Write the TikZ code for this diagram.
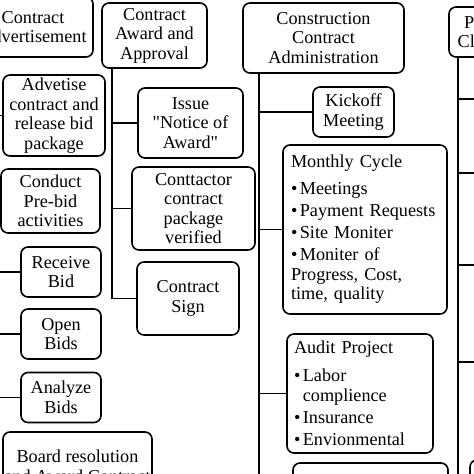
\documentclass[tikz,border=0pt]{standalone}
\usepackage{fontspec}
\setmainfont{Liberation Serif}
\newcommand\bul{\textbullet\hspace{2.5pt}}

\begin{document}
\begin{tikzpicture}[
        x=1pt, y=-1pt,
        font=\fontsize{18.2}{19.5}\selectfont,
        box/.style={draw, line width=1.6pt, rounded corners=7pt, align=center, inner sep=0pt},
        listbox/.style={box, align=left},
        line/.style={line width=1.6pt}
    ]

    \fill[white] (0,0) rectangle (474,474);
    \useasboundingbox (0,0) rectangle (474,474);
    \clip (0,0) rectangle (474,474);

    % Contract advertisement
    \node[box, minimum width=120pt, minimum height=60pt] (adv) at (33,27) {Contract\\Advertisement};
    \node[box, minimum width=102pt, minimum height=81pt] (advetise) at (54,115.5) {Advetise\\contract and\\release bid\\package};
    \node[box, minimum width=99pt, minimum height=64pt] (conduct) at (50.5,201) {Conduct\\Pre-bid\\activities};
    \node[box, minimum width=80pt, minimum height=50pt] (receive) at (61,272) {Receive\\Bid};
    \node[box, minimum width=80pt, minimum height=50pt] (open) at (61,334) {Open\\Bids};
    \node[box, minimum width=80pt, minimum height=50pt] (analyze) at (61,397.5) {Analyze\\Bids};
    \node[box, minimum width=149pt, minimum height=69pt] (board) at (77.5,466.5) {Board resolution\\and Award Contract};

    % Contract award
    \node[box, minimum width=105pt, minimum height=65pt] (award) at (154.5,35.5) {Contract\\Award and\\Approval};
    \node[box, minimum width=105pt, minimum height=70pt] (issue) at (190.5,123) {Issue\\\textquotedbl Notice of\\Award\textquotedbl};
    \node[box, minimum width=123pt, minimum height=83pt] (verify) at (193.5,208.5) {Conttactor\\contract\\package\\verified};
    \node[box, minimum width=102pt, minimum height=73pt] (sign) at (188,298.5) {Contract\\Sign};

    % Contract administration
    \node[box, minimum width=161pt, minimum height=70pt] (admin) at (323.5,38) {Construction\\Contract\\Administration};
    \node[box, minimum width=81pt, minimum height=50pt] (kickoff) at (353.5,112) {Kickoff\\Meeting};
    \node[listbox, text width=148pt, minimum width=164pt, minimum height=169pt] (monthly) at (365,229.5) {Monthly Cycle\\[7.5pt]
        \bul Meetings\\[2.5pt]
        \bul Payment Requests\\[2.5pt]
        \bul Site Moniter\\[2.5pt]
        \bul Moniter of\\
        Progress, Cost,\\
        time, quality};
    \node[listbox, text width=132pt, minimum width=146pt, minimum height=119pt] (audit) at (360,393.5) {Audit Project\\[8.5pt]
        \bul Labor\\
        \phantom{\bul}complience\\[2.5pt]
        \bul Insurance\\[2.5pt]
        \bul Envionmental};
    \node[box, minimum width=155pt, minimum height=80pt] (nextbox) at (370.5,503) {};

    % Closeout
    \node[box, minimum width=82pt, minimum height=50pt] (close) at (490,32) {Project\\Closeout};
    \node[box, minimum width=90pt, minimum height=80pt] (lastbox) at (515,500) {};
    \foreach \y [count=\i] in {99,173,265,362}
        \coordinate (out\i) at (490,\y);

    % Connectors
    \coordinate (advspine) at ([xshift=12pt]adv.south west);
    \draw[line] (advspine) |- (analyze.west);
    \foreach \n in {advetise,conduct,receive,open}
        \draw[line] (advspine |- \n.west) -- (\n.west);

    \coordinate (awdspine) at ([xshift=11pt]award.south west);
    \draw[line] (awdspine) |- (sign.west);
    \foreach \n in {issue,verify}
        \draw[line] (awdspine |- \n.west) -- (\n.west);

    \coordinate (admspine) at ([xshift=17pt]admin.south west);
    \draw[line] (admspine) |- (nextbox.west);
    \foreach \n in {kickoff,monthly,audit}
        \draw[line] (admspine |- \n.west) -- (\n.west);

    \coordinate (clsspine) at ([xshift=10pt]close.south west);
    \draw[line] (clsspine) |- (lastbox.west);
    \foreach \i in {1,...,4}
        \draw[line] (clsspine |- out\i) -- (out\i);

\end{tikzpicture}
\end{document}
